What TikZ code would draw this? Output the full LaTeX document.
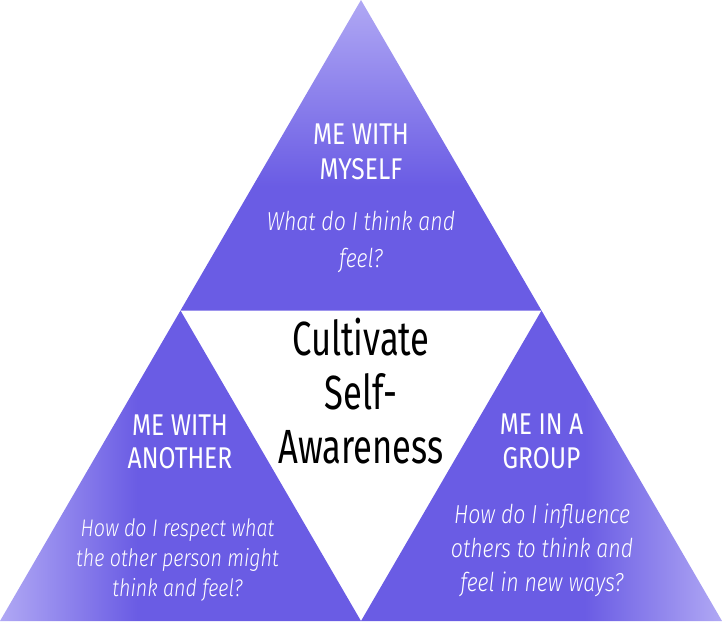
\documentclass[tikz,border=0pt]{standalone}
\usepackage{fontspec}
\usepackage{xcolor}
\usepackage{tikz}
\usetikzlibrary{positioning, calc}
\newfontfamily\headfont{Fira Sans}[FakeStretch=0.82]
\newfontfamily\corefont{Fira Sans}[FakeStretch=0.72]
\IfFontExistsTF{Fira Sans Light}
  {\newfontfamily\askfont{Fira Sans Light}[FakeStretch=0.82, ItalicFont={Fira Sans Light Italic}]}
  {\newfontfamily\askfont{Fira Sans}[FakeStretch=0.82]}
\definecolor{mainpurple}{RGB}{106, 92, 228}
\definecolor{lightpurple}{RGB}{176, 168, 244}
% corner fades: light only near the outer corners
\pgfdeclareverticalshading{topfade}{100bp}{color(0bp)=(mainpurple); color(25bp)=(mainpurple);
  color(45bp)=(mainpurple); color(75bp)=(lightpurple); color(100bp)=(lightpurple)}
\pgfdeclarehorizontalshading{leftfade}{100bp}{color(0bp)=(lightpurple); color(25bp)=(lightpurple);
  color(44bp)=(mainpurple); color(100bp)=(mainpurple)}
\pgfdeclarehorizontalshading{rightfade}{100bp}{color(0bp)=(mainpurple); color(56bp)=(mainpurple);
  color(75bp)=(lightpurple); color(100bp)=(lightpurple)}
\tikzset{
  headtext/.style={text=white, align=center, inner sep=0pt},
  asktext/.style={text=white, align=center, inner sep=0pt},
  coretext/.style={text=black, align=center, inner sep=0pt}
}

\begin{document}
\begin{tikzpicture}[x=1pt, y=-1pt]
    \useasboundingbox (0,0) rectangle (722,623);
    \coordinate (T) at (361,0);
    \coordinate (L) at (0,621);
    \coordinate (R) at (722,621);
    \coordinate (TL) at (180.5,310.5);
    \coordinate (TR) at (541.5,310.5);
    \coordinate (B) at (361,621);
    % three outer triangles
    \shade[shading=topfade] (T)--(TL)--(TR)--cycle;
    \shade[shading=leftfade] (TL)--(L)--(B)--cycle;
    \shade[shading=rightfade] (TR)--(B)--(R)--cycle;
    % labels
    \node[headtext, font=\headfont\fontsize{30}{35}\selectfont] (myself) at (361,151.5)
        {ME WITH\\MYSELF};
    \node[asktext, font=\askfont\itshape\fontsize{26}{37}\selectfont] (myselfask) at (361,242)
        {What do I think and\\feel?};
    \node[coretext, font=\corefont\fontsize{48}{54}\selectfont] (core) at (361,391.5)
        {Cultivate\\Self-\\Awareness};
    \node[headtext, font=\headfont\fontsize{30}{33}\selectfont] (another) at (180,441.5)
        {ME WITH\\ANOTHER};
    \node[asktext, font=\askfont\itshape\fontsize{24}{30}\selectfont] (anotherask) at (177.5,560)
        {How do I respect what\\the other person might\\think and feel?};
    \node[headtext, font=\headfont\fontsize{30}{34}\selectfont] (group) at (541.5,441)
        {ME IN A\\GROUP};
    \node[asktext, font=\askfont\itshape\fontsize{26}{34}\selectfont] (groupask) at (542,550)
        {How do I influence\\others to think and\\feel in new ways?};
\end{tikzpicture}
\end{document}
